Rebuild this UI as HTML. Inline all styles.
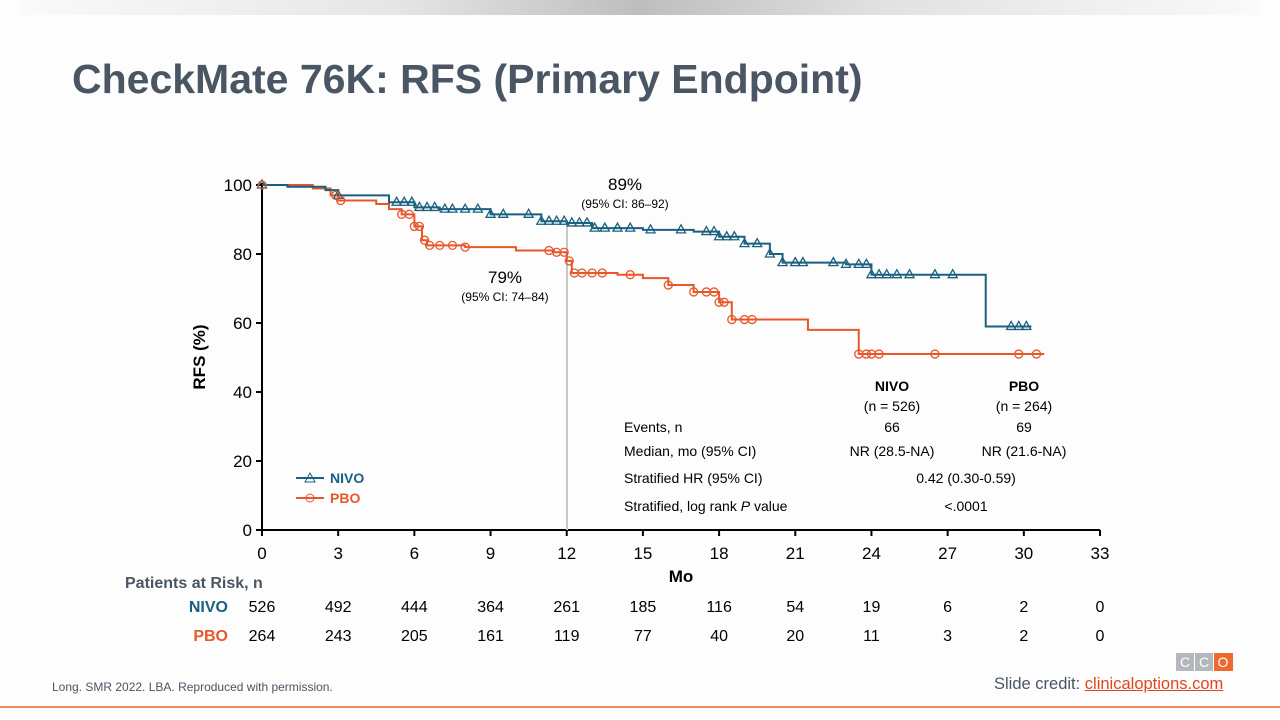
<!DOCTYPE html>
<html><head><meta charset="utf-8"><style>
body{margin:0;width:1280px;height:720px;background:#fdfdfd;font-family:"Liberation Sans",sans-serif;position:relative;overflow:hidden}
.top{position:absolute;left:20px;top:0;width:1240px;height:15px;background:linear-gradient(90deg,#fafafa,#e6e6e6 30%,#bebebe 50%,#e2e2e2 70%,#fafafa)}
h1{position:absolute;left:72px;top:56px;margin:0;font-size:41px;font-weight:bold;color:#4a5663}
.ft{position:absolute;font-size:13px;color:#4a5663}
.line{position:absolute;left:0;top:706px;width:1280px;height:2px;background:#f08860}
</style></head><body>
<div class="top"></div>
<h1>CheckMate 76K: RFS (Primary Endpoint)</h1>
<svg id="s" width="1280" height="720" style="position:absolute;left:0;top:0" font-family="Liberation Sans, sans-serif">
<g stroke="#000" stroke-width="2">
<line x1="262" y1="183" x2="262" y2="531"/><line x1="261" y1="530" x2="1100" y2="530"/>
</g>
<line x1="567" y1="222" x2="567" y2="530" stroke="#c8c8c8" stroke-width="2"/>
<g id="ax" font-size="17" fill="#000"></g>
<text x="205" y="357" font-size="17" font-weight="bold" transform="rotate(-90 205 357)" text-anchor="middle">RFS (%)</text>
<text x="681" y="582" font-size="17" font-weight="bold" text-anchor="middle">Mo</text>
<text x="625" y="190" font-size="17" text-anchor="middle">89%</text>
<text x="625" y="208" font-size="12" text-anchor="middle">(95% CI: 86–92)</text>
<text x="505" y="283" font-size="17" text-anchor="middle">79%</text>
<text x="505" y="301" font-size="12" text-anchor="middle">(95% CI: 74–84)</text>
<g id="curves"></g>
<g font-size="14" fill="#000">
<text x="892" y="391" text-anchor="middle" font-weight="bold">NIVO</text>
<text x="1024" y="391" text-anchor="middle" font-weight="bold">PBO</text>
<text x="892" y="411" text-anchor="middle">(n = 526)</text>
<text x="1024" y="411" text-anchor="middle">(n = 264)</text>
<text x="624" y="432">Events, n</text><text x="892" y="432" text-anchor="middle">66</text><text x="1024" y="432" text-anchor="middle">69</text>
<text x="624" y="456">Median, mo (95% CI)</text><text x="892" y="456" text-anchor="middle">NR (28.5-NA)</text><text x="1024" y="456" text-anchor="middle">NR (21.6-NA)</text>
<text x="624" y="483">Stratified HR (95% CI)</text><text x="966" y="483" text-anchor="middle">0.42 (0.30-0.59)</text>
<text x="624" y="511">Stratified, log rank <tspan font-style="italic">P</tspan> value</text><text x="966" y="511" text-anchor="middle">&lt;.0001</text>
</g>
<line x1="296" y1="478" x2="324" y2="478" stroke="#1a6080" stroke-width="2"/><polygon points="310,473 315,482 305,482" fill="none" stroke="#1a6080"/>
<text x="330" y="483" font-size="14" font-weight="bold" fill="#1a6080">NIVO</text>
<line x1="296" y1="498" x2="324" y2="498" stroke="#e8572a" stroke-width="2"/><circle cx="310" cy="498" r="4" fill="none" stroke="#e8572a"/>
<text x="330" y="503" font-size="14" font-weight="bold" fill="#e8572a">PBO</text>
<text x="125" y="588" font-size="16" font-weight="bold" fill="#4a5663">Patients at Risk, n</text>
<text x="228" y="612" font-size="16" font-weight="bold" fill="#1a6080" text-anchor="end">NIVO</text>
<text x="228" y="641" font-size="16" font-weight="bold" fill="#e8572a" text-anchor="end">PBO</text>
<g id="risk" font-size="16" fill="#000" text-anchor="middle"></g>
<rect x="1176" y="653" width="18" height="18" fill="#b4b8bc"/><rect x="1195" y="653" width="18" height="18" fill="#b4b8bc"/><rect x="1214" y="653" width="19" height="18" fill="#ee6a2c"/>
<text x="1185" y="667" font-size="14" fill="#fff" text-anchor="middle">C</text><text x="1204" y="667" font-size="14" fill="#fff" text-anchor="middle">C</text><text x="1223" y="667" font-size="14" fill="#fff" text-anchor="middle">O</text>
</svg>
<div class="ft" style="left:52px;top:680px;font-size:12px">Long. SMR 2022. LBA. Reproduced with permission.</div>
<div class="ft" style="left:994px;top:675px;font-size:16.5px">Slide credit: <span style="color:#e0461e;text-decoration:underline">clinicaloptions.com</span></div>
<div class="line"></div>
<script>
const X=m=>262+m*838/33,Y=p=>530-p*3.45,ns="http://www.w3.org/2000/svg";
function el(t,a,p){const e=document.createElementNS(ns,t);for(const k in a)e.setAttribute(k,a[k]);(p||document.getElementById('curves')).appendChild(e);return e}
const ax=document.getElementById('ax');
for(let v=0;v<=100;v+=20){el('line',{x1:256,y1:Y(v),x2:262,y2:Y(v),stroke:'#000','stroke-width':2},ax);const t=el('text',{x:252,y:Y(v)+6,'text-anchor':'end'},ax);t.textContent=v}
for(let m=0;m<=33;m+=3){el('line',{x1:X(m),y1:530,x2:X(m),y2:536,stroke:'#000','stroke-width':2},ax);const t=el('text',{x:X(m),y:559,'text-anchor':'middle'},ax);t.textContent=m}
const nivo=[[0,100],[1,99.5],[2.5,98.5],[3,97],[5,95],[6,93.5],[7,93],[9,91.5],[11,89.5],[12,89],[13,87.5],[15,87],[17,86.5],[18,85],[19,83],[20,80],[20.5,77.5],[23,77],[24,74],[28.5,74],[28.5,59],[30.3,59]];
const pbo=[[0,100],[2,99],[2.7,97],[3,95.5],[4.5,94.5],[5,93],[5.5,91.5],[6,88],[6.3,84],[6.5,82.5],[8,82],[10,81],[11.5,80.5],[12,78],[12.2,74.5],[14,74],[15,73],[16,71],[17,69],[18,66],[18.5,61],[21.5,58],[23.5,54],[23.5,51],[30.8,51]];
function step(d){let s='M'+X(d[0][0])+','+Y(d[0][1]);for(let i=1;i<d.length;i++)s+=' H'+X(d[i][0])+' V'+Y(d[i][1]);return s}
function val(d,m){let v=d[0][1];for(const p of d)if(p[0]<=m)v=p[1];return v}
el('path',{d:step(pbo),fill:'none',stroke:'#e8572a','stroke-width':2});
el('path',{d:step(nivo),fill:'none',stroke:'#1a6080','stroke-width':2});
const nm=[0,3,5.3,5.6,5.9,6.2,6.5,6.8,7.2,7.5,8,8.5,9,9.5,10.5,11,11.3,11.6,11.9,12.2,12.5,12.8,13.1,13.5,14,14.5,15.3,16.5,17.5,17.8,18,18.3,18.6,19,19.5,20,20.5,21,21.3,22.5,23,23.5,23.8,24,24.3,24.6,25,25.5,26.5,27.2,29.5,29.8,30.1];
nm.forEach(m=>{const x=X(m),y=Y(val(nivo,m));el('polygon',{points:`${x},${y-5} ${x+4.5},${y+3} ${x-4.5},${y+3}`,fill:'none',stroke:'#1a6080','stroke-width':1.3})});
const pm=[0,2.9,3.1,5.5,5.8,6,6.2,6.4,6.6,7,7.5,8,11.3,11.6,11.9,12.1,12.3,12.6,13,13.4,14.5,16,17,17.5,17.8,18,18.2,18.5,19,19.3,23.5,23.8,24,24.3,26.5,29.8,30.5];
pm.forEach(m=>{el('circle',{cx:X(m),cy:Y(val(pbo,m)),r:4,fill:'none',stroke:'#e8572a','stroke-width':1.3})});
const r=document.getElementById('risk');
const a=[526,492,444,364,261,185,116,54,19,6,2,0],b=[264,243,205,161,119,77,40,20,11,3,2,0];
a.forEach((v,i)=>{let t=el('text',{x:i?X(i*3):262,y:612},r);t.textContent=v;t=el('text',{x:i?X(i*3):262,y:641},r);t.textContent=b[i]});
</script>
</body></html>
